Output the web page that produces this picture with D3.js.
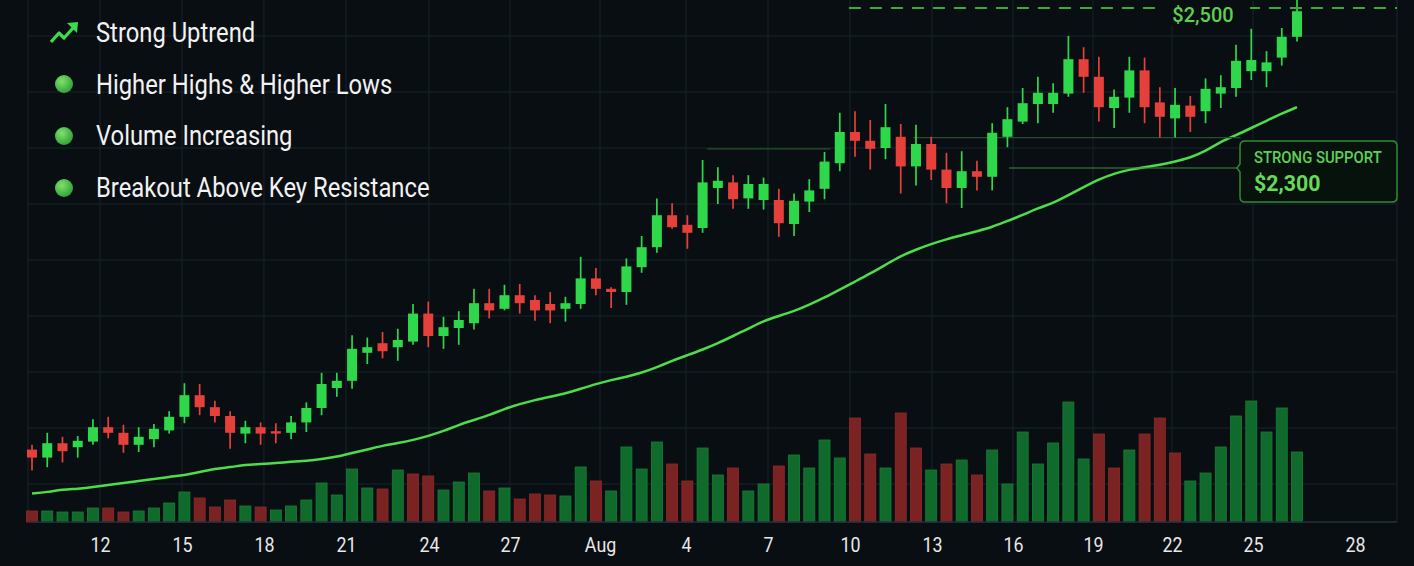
<!DOCTYPE html>
<html>
<head>
<meta charset="utf-8">
<script src="https://cdn.jsdelivr.net/npm/d3@7"></script>
<style>
html, body { margin: 0; padding: 0; background: #090e13; }
svg { display: block; }
</style>
</head>
<body>
<svg></svg>
<script>
// x axis: labels and where they sit, in candle-index units
const tickLabels = ["12", "15", "18", "21", "24", "27", "Aug", "4", "7", "10", "13", "16", "19", "22", "25", "28"];
const tickIdx = [4.46, 9.84, 15.22, 20.6, 26.05, 31.36, 37.27, 42.91, 48.29, 53.67, 59.05, 64.37, 69.62, 74.8, 80.11, 86.81];

// OHLC
const opens = [1948, 1938, 1956, 1951, 1958, 1976, 1969, 1954, 1961, 1972,
    1989, 2016, 2001, 1990, 1968, 1976, 1971, 1969, 1982, 2000,
    2025, 2034, 2069, 2081, 2076, 2083, 2118, 2090, 2100, 2106,
    2131, 2124, 2141, 2135, 2130, 2124, 2130, 2162, 2149, 2145,
    2176, 2201, 2241, 2229, 2225, 2275, 2282, 2262, 2260, 2260,
    2230, 2258, 2274, 2306, 2345, 2334, 2325, 2339, 2302, 2330,
    2298, 2275, 2296, 2289, 2339, 2358, 2380, 2380, 2393, 2436,
    2414, 2375, 2388, 2422, 2382, 2362, 2378, 2371, 2393, 2400,
    2421, 2421, 2438, 2464];
const highs = [1954, 1969, 1964, 1965, 1986, 1989, 1979, 1976, 1980, 1996,
    2031, 2030, 2009, 1996, 1984, 1982, 1981, 1990, 2007, 2044,
    2044, 2091, 2088, 2095, 2099, 2130, 2133, 2114, 2121, 2149,
    2149, 2154, 2155, 2141, 2145, 2139, 2189, 2175, 2151, 2187,
    2215, 2262, 2256, 2241, 2310, 2301, 2291, 2291, 2288, 2274,
    2268, 2286, 2320, 2369, 2371, 2360, 2380, 2355, 2354, 2339,
    2319, 2321, 2309, 2356, 2376, 2400, 2414, 2406, 2465, 2451,
    2439, 2398, 2439, 2438, 2401, 2400, 2390, 2412, 2416, 2454,
    2474, 2446, 2475, 2510];
const lows = [1922, 1926, 1932, 1938, 1954, 1962, 1944, 1945, 1951, 1968,
    1981, 1991, 1982, 1949, 1956, 1954, 1956, 1961, 1970, 1991,
    2014, 2024, 2055, 2062, 2059, 2079, 2076, 2074, 2079, 2098,
    2112, 2122, 2118, 2109, 2106, 2108, 2124, 2141, 2125, 2129,
    2169, 2194, 2224, 2199, 2219, 2255, 2249, 2249, 2248, 2214,
    2215, 2245, 2261, 2296, 2314, 2298, 2311, 2268, 2278, 2285,
    2256, 2250, 2272, 2272, 2326, 2355, 2356, 2369, 2389, 2394,
    2358, 2350, 2369, 2356, 2338, 2338, 2345, 2356, 2375, 2389,
    2410, 2401, 2428, 2458];
const closes = [1938, 1956, 1946, 1959, 1976, 1969, 1954, 1964, 1974, 1989,
    2016, 2001, 1990, 1969, 1976, 1968, 1968, 1982, 2000, 2030,
    2034, 2074, 2076, 2071, 2085, 2118, 2090, 2101, 2110, 2131,
    2122, 2141, 2131, 2122, 2122, 2131, 2162, 2149, 2145, 2177,
    2201, 2241, 2226, 2219, 2282, 2284, 2261, 2280, 2280, 2231,
    2259, 2272, 2308, 2345, 2334, 2324, 2351, 2302, 2330, 2298,
    2275, 2296, 2289, 2344, 2361, 2381, 2394, 2394, 2436, 2414,
    2376, 2389, 2422, 2376, 2364, 2379, 2364, 2399, 2401, 2434,
    2435, 2432, 2464, 2496];

// volume (thousands) and whether the bar is a buying bar
const volumes = [110, 110, 100, 100, 140, 140, 100, 110, 140, 190,
    300, 240, 150, 220, 160, 150, 120, 160, 220, 390,
    270, 530, 340, 330, 520, 480, 460, 320, 400, 490,
    310, 340, 230, 280, 270, 260, 550, 410, 310, 750,
    530, 800, 580, 410, 740, 470, 540, 310, 380, 560,
    670, 540, 820, 640, 1040, 680, 540, 1090, 740, 520,
    580, 620, 470, 720, 380, 900, 580, 790, 1200, 630,
    880, 540, 720, 880, 1040, 690, 410, 490, 750, 1060,
    1210, 900, 1140, 700];
const volumeUp = [0, 1, 1, 1, 1, 0, 0, 1, 1, 1,
    1, 0, 0, 0, 1, 0, 1, 1, 1, 1,
    1, 1, 1, 0, 1, 0, 0, 1, 1, 1,
    0, 1, 0, 0, 0, 1, 1, 0, 1, 1,
    1, 1, 0, 0, 1, 1, 0, 1, 1, 0,
    1, 1, 1, 1, 0, 0, 1, 0, 0, 1,
    0, 1, 0, 1, 1, 1, 1, 1, 1, 1,
    0, 0, 1, 0, 0, 0, 1, 1, 1, 1,
    1, 1, 1, 1];

// moving average as drawn
const movingAvg = [1893, 1895, 1898, 1899, 1901, 1904, 1906, 1909, 1911, 1914,
    1916, 1920, 1924, 1926, 1929, 1930, 1931, 1933, 1934, 1936,
    1939, 1944, 1948, 1953, 1956, 1960, 1965, 1971, 1979, 1985,
    1991, 1999, 2005, 2010, 2014, 2018, 2024, 2030, 2035, 2039,
    2044, 2051, 2059, 2066, 2073, 2081, 2090, 2099, 2109, 2115,
    2121, 2129, 2138, 2148, 2158, 2168, 2179, 2190, 2198, 2205,
    2211, 2216, 2221, 2226, 2234, 2241, 2250, 2256, 2266, 2276,
    2286, 2293, 2298, 2301, 2304, 2308, 2313, 2321, 2333, 2341,
    2350, 2359, 2368, 2376];

const gridPrices = [2465, 2395, 2325, 2255, 2185, 2115, 2045, 1975, 1905];

const legendItems = ["Strong Uptrend", "Higher Highs & Higher Lows", "Volume Increasing", "Breakout Above Key Resistance"];

const breakoutPrice = 2500;
const supportPrice = 2300;
const resistancePrice = 2338;
const midPrice = 2324;
// where each level line starts / ends, in candle-index units
const levelFrom = [53.6, 64.1, 57.8, 44.3];
const levelTo = [88.8, 79.3, 79.3, 52.4];

(() => {
    const width = 1414;
    const height = 566;
    const plotLeft = 28, plotRight = 1397, baseY = 522;

    const up = "#2fd84b", down = "#e6403a";
    const volUpCol = "#0f6a2b", volDownCol = "#7b2222";
    const gridCol = "#16242b";

    const svg = d3.select("svg")
        .attr("width", width)
        .attr("height", height)
        .style("background", "#090e13");

    const x = d3.scaleLinear().domain([0, opens.length - 1]).range([32, 1297]);
    const y = d3.scaleLinear().domain([1857.5, 2510]).range([baseY, 0]);
    const yVol = d3.scaleLinear().domain([0, 1300]).range([baseY, 392]);

    const defs = svg.append("defs");
    const grad = defs.append("radialGradient").attr("id", "dot")
        .attr("cx", "38%").attr("cy", "35%").attr("r", "70%");
    grad.append("stop").attr("offset", "0%").attr("stop-color", "#7ee26c");
    grad.append("stop").attr("offset", "100%").attr("stop-color", "#2f9e36");

    // grid
    const grid = svg.append("g").attr("class", "grid");
    grid.selectAll(".hg")
        .data(gridPrices)
        .enter()
        .append("line")
        .attr("x1", plotLeft).attr("x2", plotRight)
        .attr("y1", d => y(d)).attr("y2", d => y(d))
        .attr("stroke", gridCol).attr("stroke-width", 1);
    grid.selectAll(".vg")
        .data(tickIdx.slice(0, -1))
        .enter()
        .append("line")
        .attr("x1", d => x(d)).attr("x2", d => x(d))
        .attr("y1", 0).attr("y2", baseY)
        .attr("stroke", gridCol).attr("stroke-width", 1);
    grid.selectAll(".frame")
        .data([plotLeft, plotRight])
        .enter()
        .append("line")
        .attr("x1", d => d).attr("x2", d => d)
        .attr("y1", 0).attr("y2", baseY)
        .attr("stroke", gridCol).attr("stroke-width", 1);

    // volume
    svg.append("g")
        .attr("class", "volume")
        .selectAll("rect")
        .data(volumes)
        .enter()
        .append("rect")
        .attr("x", (d, i) => x(i) - 5.5)
        .attr("width", 11)
        .attr("y", d => yVol(d))
        .attr("height", d => baseY - yVol(d))
        .attr("fill", (d, i) => volumeUp[i] ? volUpCol : volDownCol)
        .attr("stroke", (d, i) => volumeUp[i] ? "#168036" : "#8f2a2a")
        .attr("stroke-width", 0.8);

    svg.append("line")
        .attr("x1", plotLeft).attr("x2", plotRight)
        .attr("y1", baseY).attr("y2", baseY)
        .attr("stroke", "#22323a").attr("stroke-width", 1.5);

    // moving average
    const line = d3.line()
        .x((d, i) => x(i))
        .y(d => y(d))
        .curve(d3.curveBasis);
    svg.append("path")
        .datum(movingAvg)
        .attr("d", line)
        .attr("fill", "none")
        .attr("stroke", "#4ddd4a")
        .attr("stroke-width", 2.5);

    // level lines
    const levelPrices = [breakoutPrice, supportPrice, resistancePrice, midPrice];
    const levels = svg.append("g").attr("class", "levels");
    levels.selectAll("line")
        .data(levelPrices.slice(1))
        .enter()
        .append("line")
        .attr("x1", (d, i) => x(levelFrom[i + 1]))
        .attr("x2", (d, i) => x(levelTo[i + 1]))
        .attr("y1", d => y(d)).attr("y2", d => y(d))
        .attr("stroke", (d, i) => i === 0 ? "#3a8d3c" : "#24502c")
        .attr("stroke-width", 1.2);

    // candles
    const candles = svg.append("g")
        .attr("class", "candles")
        .selectAll(".candle")
        .data(opens)
        .enter()
        .append("g")
        .attr("class", "candle");
    candles.append("line")
        .attr("x1", (d, i) => x(i)).attr("x2", (d, i) => x(i))
        .attr("y1", (d, i) => y(highs[i]))
        .attr("y2", (d, i) => y(lows[i]))
        .attr("stroke", (d, i) => closes[i] >= d ? up : down)
        .attr("stroke-width", 1.7);
    candles.append("rect")
        .attr("x", (d, i) => x(i) - 5)
        .attr("width", 10)
        .attr("y", (d, i) => y(Math.max(d, closes[i])))
        .attr("height", (d, i) => Math.max(2, Math.abs(y(d) - y(closes[i]))))
        .attr("fill", (d, i) => closes[i] >= d ? up : down);

    // breakout dashed line + label
    svg.append("line")
        .attr("x1", x(levelFrom[0])).attr("x2", plotRight)
        .attr("y1", y(breakoutPrice)).attr("y2", y(breakoutPrice))
        .attr("stroke", "#3aa83c")
        .attr("stroke-width", 2)
        .attr("stroke-dasharray", "12,9");
    svg.append("rect")
        .attr("x", 1156).attr("y", 0)
        .attr("width", 94).attr("height", 26)
        .attr("fill", "#090e13");
    svg.append("text")
        .attr("x", 1203).attr("y", y(breakoutPrice) + 14)
        .attr("text-anchor", "middle")
        .attr("font-family", "Roboto, sans-serif")
        .attr("font-size", 20)
        .attr("font-weight", 500)
        .attr("fill", "#5fcf52")
        .text("$" + d3.format(",")(breakoutPrice));

    // support box
    const bx = 1240, by = 141, bw = 157, bh = 61, r = 5, ny = y(supportPrice);
    const box = svg.append("g").attr("class", "support");
    box.append("path")
        .attr("d", `M${bx + r},${by} H${bx + bw - r} Q${bx + bw},${by} ${bx + bw},${by + r}
            V${by + bh - r} Q${bx + bw},${by + bh} ${bx + bw - r},${by + bh} H${bx + r}
            Q${bx},${by + bh} ${bx},${by + bh - r} V${ny + 4} L${bx - 3},${ny} L${bx},${ny - 4}
            V${by + r} Q${bx},${by} ${bx + r},${by} Z`)
        .attr("fill", "#08120d")
        .attr("stroke", "#2f8a35")
        .attr("stroke-width", 1.5);
    box.append("text")
        .attr("transform", `translate(${bx + 14},${by + 22}) scale(0.9,1)`)
        .attr("font-family", "Roboto, sans-serif")
        .attr("font-size", 16.5)
        .attr("font-weight", 500)
        .attr("fill", "#5fcf57")
        .text("STRONG SUPPORT");
    box.append("text")
        .attr("transform", `translate(${bx + 14},${by + 50}) scale(0.95,1)`)
        .attr("font-family", "Roboto, sans-serif")
        .attr("font-size", 22.5)
        .attr("font-weight", 700)
        .attr("fill", "#66d95a")
        .text("$" + d3.format(",")(supportPrice));

    // x axis
    const axis = d3.axisBottom(x)
        .tickValues(tickIdx)
        .tickFormat((d, i) => tickLabels[i])
        .tickSize(0)
        .tickPadding(15);
    const gx = svg.append("g")
        .attr("transform", `translate(0,${baseY})`)
        .call(axis);
    gx.select(".domain").remove();
    gx.selectAll("text")
        .attr("font-family", "Roboto, sans-serif")
        .attr("font-size", 21)
        .attr("fill", "#e8e8e8")
        .attr("transform", "scale(0.85,1)");

    // legend
    const legend = svg.append("g").attr("class", "legend");
    legend.selectAll("text")
        .data(legendItems)
        .enter()
        .append("text")
        .attr("transform", (d, i) => `translate(96,${42 + i * 51.7}) scale(0.85,1)`)
        .attr("font-family", "Roboto, sans-serif")
        .attr("font-size", 28)
        .attr("fill", "#f2f2f2")
        .text(d => d);
    legend.selectAll("circle")
        .data(legendItems.slice(1))
        .enter()
        .append("circle")
        .attr("cx", 64)
        .attr("cy", (d, i) => 84 + i * 52)
        .attr("r", 9)
        .attr("fill", "url(#dot)");
    legend.append("path")
        .attr("d", "M51,42 L59,33 L64,38 L74,27")
        .attr("fill", "none")
        .attr("stroke", "#3ddc4a")
        .attr("stroke-width", 3.2)
        .attr("stroke-linejoin", "round");
    legend.append("path")
        .attr("d", "M67,23 L78,22 L77,33 Z")
        .attr("fill", "#3ddc4a");
})();
</script>
</body>
</html>
